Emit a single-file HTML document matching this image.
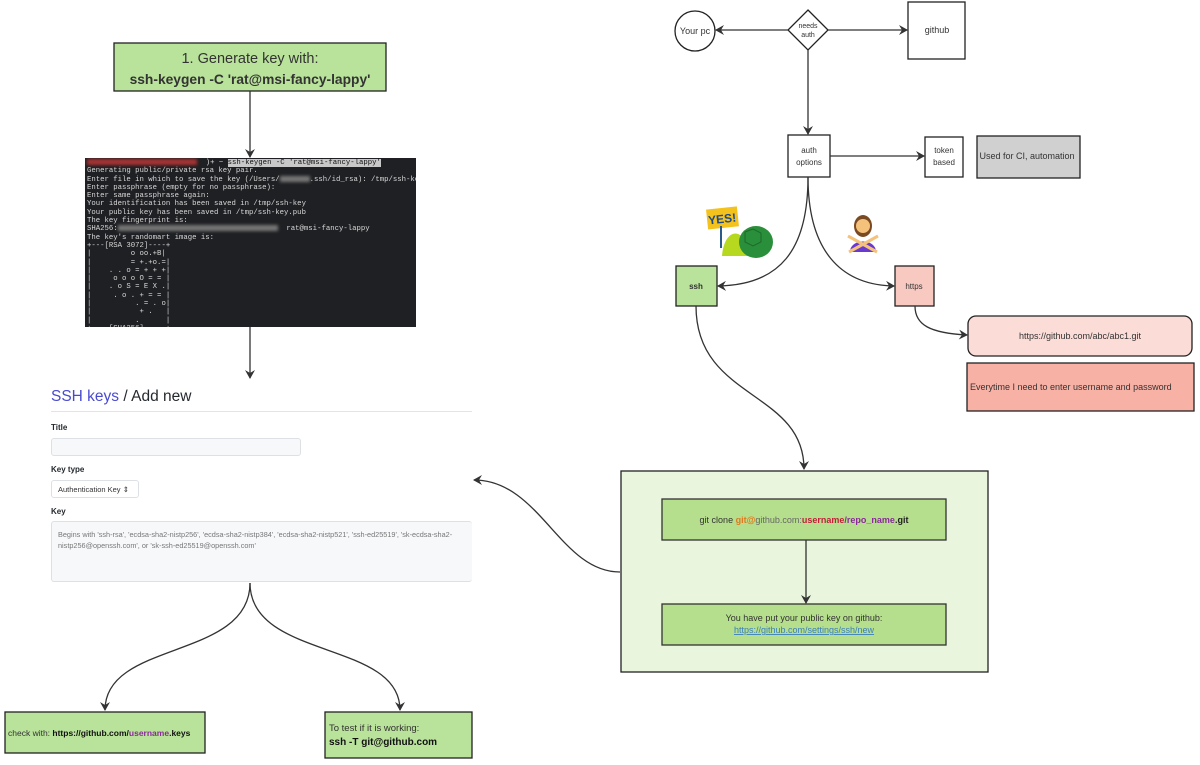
<!DOCTYPE html>
<html><head><meta charset="utf-8"><style>
body{margin:0;width:1200px;height:765px;background:#fff;position:relative;overflow:hidden;font-family:"Liberation Sans","DejaVu Sans",sans-serif}
.abs{position:absolute;box-sizing:border-box}
.term{left:85px;top:158px;width:331px;height:169px;background:#1f2023;color:#d8d8d8;font-family:"Liberation Mono","DejaVu Sans Mono",monospace;font-size:7.3px;line-height:8.3px;padding:1px 2px;white-space:pre;overflow:hidden}
.blur{background:#777;color:transparent;display:inline-block;height:6px;vertical-align:-1px;filter:blur(1.5px);line-height:6px}
.hl{background:#c8c8c8;color:#111}
.lbl{font-size:8px;font-weight:bold;color:#24292e}
.inp{background:#f6f8fa;border:1px solid #dde1e5;border-radius:3px}
</style></head><body>
<svg class="abs" style="left:0;top:0" width="1200" height="765" viewBox="0 0 1200 765">
<defs><marker id="a" markerWidth="10" markerHeight="10" refX="8" refY="5" orient="auto" markerUnits="userSpaceOnUse"><path d="M0,0 L9,5 L0,10 L3,5 z" fill="#333"/></marker></defs>
<g fill="none" stroke="#333" stroke-width="1.3">
<rect x="114" y="43" width="272" height="48" fill="#b9e29a" stroke="#222"/>
<path d="M250,91 V157" marker-end="url(#a)"/>
<path d="M250,327 V378" marker-end="url(#a)"/>
<path d="M250,583 C250,660 105,640 105,710" marker-end="url(#a)"/>
<path d="M250,583 C250,660 400,640 400,710" marker-end="url(#a)"/>
<rect x="5" y="712" width="200" height="41" fill="#b9e29a" stroke="#222"/>
<rect x="325" y="712" width="147" height="46" fill="#b9e29a" stroke="#222"/>
<circle cx="695" cy="31" r="20" fill="#fff" stroke="#222"/>
<path d="M808,10 L828,30 L808,50 L788,30 z" fill="#fff" stroke="#222"/>
<path d="M788,30 H716" marker-end="url(#a)"/>
<path d="M828,30 H907" marker-end="url(#a)"/>
<rect x="908" y="2" width="57" height="57" fill="#fff" stroke="#222"/>
<path d="M808,50 V134" marker-end="url(#a)"/>
<rect x="788" y="135" width="42" height="42" fill="#fff" stroke="#222"/>
<path d="M830,156 H924" marker-end="url(#a)"/>
<rect x="925" y="137" width="38" height="40" fill="#fff" stroke="#222"/>
<rect x="977" y="136" width="103" height="42" fill="#d0d0d0" stroke="#222"/>
<path d="M808,177 C808,250 780,285 718,286" marker-end="url(#a)"/>
<path d="M808,177 C808,250 840,285 894,286" marker-end="url(#a)"/>
<rect x="676" y="266" width="41" height="40" fill="#b9e29a" stroke="#222"/>
<rect x="895" y="266" width="39" height="40" fill="#f8c9c1" stroke="#222"/>
<path d="M915,306 C915,325 930,333 967,335" marker-end="url(#a)"/>
<rect x="968" y="316" width="224" height="40" rx="8" fill="#fbdcd7" stroke="#222"/>
<rect x="967" y="363" width="227" height="48" fill="#f8b1a5" stroke="#222"/>
<path d="M696,306 C696,400 804,390 804,469" marker-end="url(#a)"/>
<rect x="621" y="471" width="367" height="201" fill="#e9f5dd" stroke="#222"/>
<rect x="662" y="499" width="284" height="41" fill="#b5df8c" stroke="#333"/>
<rect x="662" y="604" width="284" height="41" fill="#b5df8c" stroke="#333"/>
<path d="M806,540 V603" marker-end="url(#a)"/>
<path d="M620,572 C560,572 540,480 474,480" marker-end="url(#a)"/>
</g>
<g fill="#333" text-anchor="middle" font-family="Liberation Sans, DejaVu Sans, sans-serif">
<text x="250" y="63" font-size="14.5">1. Generate key with:</text>
<text x="250" y="84" font-size="13.8" font-weight="bold">ssh-keygen -C 'rat@msi-fancy-lappy'</text>
<text x="695" y="34" font-size="9">Your pc</text>
<text x="808" y="28" font-size="7">needs</text>
<text x="808" y="37" font-size="7">auth</text>
<text x="937" y="33" font-size="9">github</text>
<text x="809" y="153" font-size="8">auth</text>
<text x="809" y="165" font-size="8">options</text>
<text x="944" y="153" font-size="8">token</text>
<text x="944" y="165" font-size="8">based</text>
<text x="1027" y="159" font-size="9">Used for CI, automation</text>
<text x="696" y="289" font-size="8" font-weight="bold">ssh</text>
<text x="914" y="289" font-size="8">https</text>
<text x="1080" y="339" font-size="9">https://github.com/abc/abc1.git</text>
<text x="970" y="390" font-size="9" text-anchor="start">Everytime I need to enter username and password</text>
<text x="804" y="523" font-size="9">git clone <tspan fill="#e07a1f" font-weight="bold">git@</tspan><tspan fill="#666">github.com:</tspan><tspan fill="#c0203a" font-weight="bold">username</tspan><tspan fill="#8a2a9a" font-weight="bold">/repo_name</tspan><tspan font-weight="bold" fill="#222">.git</tspan></text>
<text x="804" y="621" font-size="9">You have put your public key on github:</text>
<text x="804" y="633" font-size="9" fill="#3a7fc0" text-decoration="underline">https://github.com/settings/ssh/new</text>
<text x="8" y="736" font-size="8.5" text-anchor="start">check with:  <tspan font-weight="bold" fill="#111">https://github.com/</tspan><tspan font-weight="bold" fill="#8a2a9a">username</tspan><tspan font-weight="bold" fill="#111">.keys</tspan></text>
<text x="329" y="731" font-size="9.5" text-anchor="start">To test if it is working:</text>
<text x="329" y="745" font-size="10" font-weight="bold" text-anchor="start" fill="#111">ssh -T git@github.com</text>
</g>
<g>
<rect x="707" y="208" width="31" height="20" fill="#f4c21c" transform="rotate(-6 722 218)"/>
<text x="722" y="223" font-size="12" font-weight="bold" fill="#1a4a8a" text-anchor="middle" font-family="Liberation Sans, sans-serif" transform="rotate(-6 722 218)">YES!</text>
<rect x="720" y="226" width="2" height="22" fill="#2a5a8a"/>
<path d="M722,256 C724,232 738,228 744,240 L760,256 z" fill="#b6d81f"/>
<ellipse cx="756" cy="242" rx="17" ry="16" fill="#2a8f3a"/>
<path d="M745,232 l8,-3 l8,4 l0,9 l-8,4 l-8,-4 z" fill="none" stroke="#1a6a2a"/>
</g>
<g>
<ellipse cx="863" cy="226" rx="9" ry="11" fill="#7a4a22"/>
<circle cx="863" cy="226" r="7" fill="#f4c27a"/>
<path d="M850,252 C850,238 876,238 876,252 z" fill="#6a3ad0"/>
<path d="M848,236 L877,252 M878,236 L849,252" stroke="#f4c27a" stroke-width="3"/>
</g>
</svg>
<div class="abs term"><span class="blur" style="width:110px;background:#a33"></span>  )+ ~ <span class="hl">ssh-keygen -C 'rat@msi-fancy-lappy'</span>
Generating public/private rsa key pair.
Enter file in which to save the key (/Users/<span class="blur" style="width:30px"></span>.ssh/id_rsa): /tmp/ssh-key
Enter passphrase (empty for no passphrase):
Enter same passphrase again:
Your identification has been saved in /tmp/ssh-key
Your public key has been saved in /tmp/ssh-key.pub
The key fingerprint is:
SHA256:<span class="blur" style="width:160px"></span>  rat@msi-fancy-lappy
The key's randomart image is:
+---[RSA 3072]----+
|         o oo.+B|
|         = +.+o.=|
|    . . o = + + +|
|     o o o O = = |
|    . o S = E X .|
|     . o . + = = |
|          . = . o|
|           + .   |
|          .      |
+----[SHA256]-----+</div>
<div class="abs" style="left:40px;top:380px;width:432px;height:203px;background:#fff">
<div class="abs" style="left:11px;top:8px;font-size:15.5px;color:#24292e"><span style="color:#4a4ad0">SSH keys</span> / Add new</div>
<div class="abs" style="left:11px;top:31px;width:421px;height:1px;background:#e1e4e8"></div>
<div class="abs lbl" style="left:11px;top:43px">Title</div>
<div class="abs inp" style="left:11px;top:58px;width:250px;height:18px"></div>
<div class="abs lbl" style="left:11px;top:85px">Key type</div>
<div class="abs inp" style="left:11px;top:100px;width:88px;height:18px;background:#fff;font-size:7.5px;color:#333;padding:4px 6px">Authentication Key &#8661;</div>
<div class="abs lbl" style="left:11px;top:127px">Key</div>
<div class="abs inp" style="left:11px;top:141px;width:421px;height:61px;font-size:7.3px;color:#777;padding:7px 6px;line-height:11px;border-right:none">Begins with 'ssh-rsa', 'ecdsa-sha2-nistp256', 'ecdsa-sha2-nistp384', 'ecdsa-sha2-nistp521', 'ssh-ed25519', 'sk-ecdsa-sha2-nistp256@openssh.com', or 'sk-ssh-ed25519@openssh.com'</div>
</div>
</body></html>
